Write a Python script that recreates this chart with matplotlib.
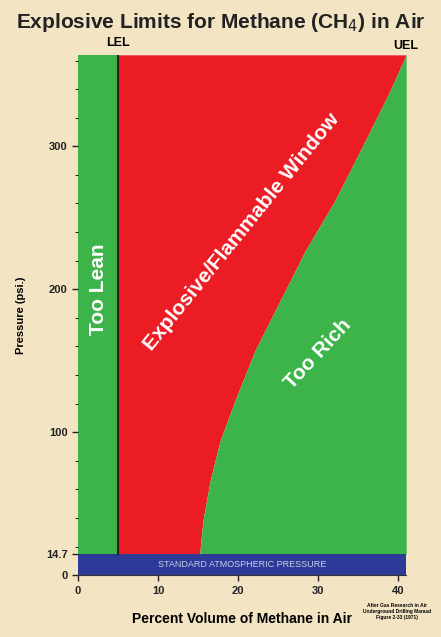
import numpy as np
import matplotlib
matplotlib.use("Agg")
import matplotlib.pyplot as plt

plt.rcParams['font.family'] = ['Liberation Sans Narrow', 'Liberation Sans', 'DejaVu Sans']

# data
lel = 5.0
atm = 14.7
ymax = 364
uel_pressure = [14.7, 38, 66, 94, 122, 157, 192, 227, 262, 304, 339, 364]
uel_percent = [15.2, 15.6, 16.5, 17.75, 19.6, 22.1, 25.25, 28.4, 32.1, 35.9, 39.0, 41.0]
yticks = [0, 14.7, 100, 200, 300]
ytick_labels = ['0', '14.7', '100', '200', '300']
xticks = [0, 10, 20, 30, 40]

bg = '#f3e4c4'
green = '#3cb44a'
red = '#ec1c24'
blue = '#2d3a98'

fig = plt.figure(figsize=(4.41, 6.37), dpi=100, facecolor=bg)
ax = fig.add_axes([0.177, 0.097, 0.744, 0.817])
ax.set_xlim(0, 41)
ax.set_ylim(0, ymax)

ax.fill_between([0, lel], atm, ymax, color=green, lw=0)
ax.fill_betweenx(uel_pressure, lel, uel_percent, color=red, lw=0)
ax.fill_betweenx(uel_pressure, uel_percent, 41, color=green, lw=0)
ax.fill_between([0, 41], 0, atm, color=blue, lw=0)
ax.plot([lel, lel], [atm, ymax], color='#222222', lw=1.5)

ax.text(20.5, atm / 2, 'STANDARD ATMOSPHERIC PRESSURE', color='#c8cde8',
        fontsize=6.5, ha='center', va='center')
ax.text(2.5, 200, 'Too Lean', color='white', fontsize=15, fontweight='bold',
        rotation=90, ha='center', va='center')
ax.text(20.5, 240, 'Explosive/Flammable Window', color='white', fontsize=15,
        fontweight='bold', rotation=51, ha='center', va='center')
ax.text(30, 155, 'Too Rich', color='white', fontsize=15, fontweight='bold',
        rotation=47, ha='center', va='center')

ax.set_yticks(yticks)
ax.set_yticklabels(ytick_labels)
ax.set_yticks(np.arange(0, ymax, 20), minor=True)
ax.set_xticks(xticks)
ax.tick_params(labelsize=8, width=1, length=4, colors='#222222')
for lab in ax.get_xticklabels() + ax.get_yticklabels():
    lab.set_fontweight('bold')
for s in ['top', 'right']:
    ax.spines[s].set_visible(False)
ax.spines['left'].set_visible(False)
ax.spines['bottom'].set_color('#333333')

ax.set_xlabel('Percent Volume of Methane in Air', fontsize=10, fontweight='bold', labelpad=12)
ax.set_ylabel('Pressure (psi.)', fontsize=8, fontweight='bold', labelpad=14)

fig.text(0.5, 0.965, 'Explosive Limits for Methane (CH$_4$) in Air', fontsize=15,
         fontweight='bold', ha='center', va='center', color='#222222')
ax.text(lel, ymax + 4, 'LEL', fontsize=9, fontweight='bold', ha='center', va='bottom')
ax.text(41, ymax + 2, 'UEL', fontsize=9, fontweight='bold', ha='center', va='bottom')
fig.text(0.9, 0.04, 'After Gas Research in Air\nUnderground Drilling Manual\nFigure 2-33 (1971)',
         fontsize=3.5, fontweight='bold', ha='center', va='center')

fig.savefig('out.png', dpi=100, facecolor=bg)
